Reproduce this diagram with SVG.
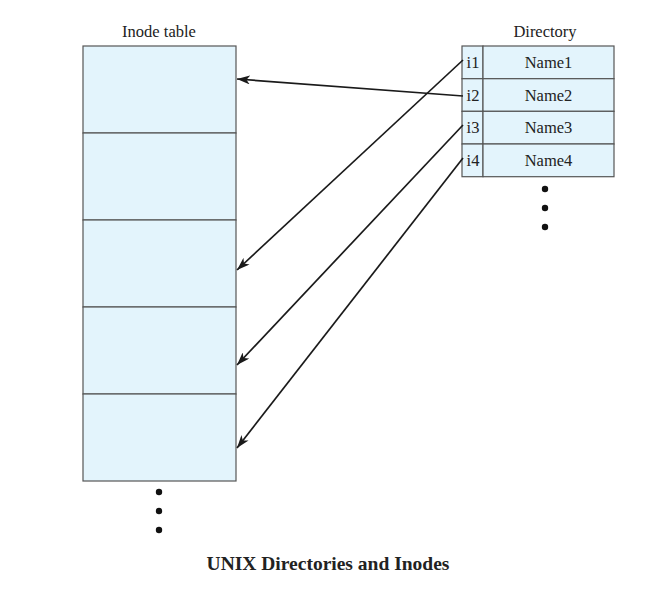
<svg xmlns="http://www.w3.org/2000/svg" width="660" height="595" viewBox="0 0 660 595">
<defs>
<marker id="ah" viewBox="0 0 13 9" refX="13" refY="4.5" markerWidth="13" markerHeight="9" markerUnits="userSpaceOnUse" orient="auto">
<path d="M0,0 L13,4.5 L0,9 L3.5,4.5 Z" fill="#1a1a1a"/>
</marker>
</defs>
<style>
.cell{fill:#e3f4fc;stroke:#555;stroke-width:1.2}
.t{font-family:"Liberation Serif",serif;font-size:16.5px;fill:#222}
.m{text-anchor:middle}
.c{stroke:#1a1a1a;stroke-width:1.7;fill:none;marker-end:url(#ah)}
.dot{fill:#111}
</style>
<rect width="660" height="595" fill="#fff"/>
<g id="inode-table">
<text class="t m" x="159" y="37">Inode table</text>
<rect class="cell" x="83" y="46" width="153" height="87"/>
<rect class="cell" x="83" y="133" width="153" height="87"/>
<rect class="cell" x="83" y="220" width="153" height="87"/>
<rect class="cell" x="83" y="307" width="153" height="87"/>
<rect class="cell" x="83" y="394" width="153" height="87"/>
<circle class="dot" cx="159" cy="492" r="3.2"/>
<circle class="dot" cx="159" cy="511" r="3.2"/>
<circle class="dot" cx="159" cy="530" r="3.2"/>
</g>
<g id="directory">
<text class="t m" x="545" y="37">Directory</text>
<rect class="cell" x="462" y="46" width="21" height="32.7"/>
<rect class="cell" x="483" y="46" width="131" height="32.7"/>
<rect class="cell" x="462" y="78.7" width="21" height="32.7"/>
<rect class="cell" x="483" y="78.7" width="131" height="32.7"/>
<rect class="cell" x="462" y="111.3" width="21" height="32.7"/>
<rect class="cell" x="483" y="111.3" width="131" height="32.7"/>
<rect class="cell" x="462" y="144" width="21" height="32.7"/>
<rect class="cell" x="483" y="144" width="131" height="32.7"/>
<text class="t m" x="473" y="68">i1</text>
<text class="t m" x="473" y="101">i2</text>
<text class="t m" x="473" y="133">i3</text>
<text class="t m" x="473" y="166">i4</text>
<text class="t m" x="548.5" y="68">Name1</text>
<text class="t m" x="548.5" y="101">Name2</text>
<text class="t m" x="548.5" y="133">Name3</text>
<text class="t m" x="548.5" y="166">Name4</text>
<circle class="dot" cx="545" cy="189" r="3.2"/>
<circle class="dot" cx="545" cy="208" r="3.2"/>
<circle class="dot" cx="545" cy="227" r="3.2"/>
</g>
<g id="connectors">
<line class="c" x1="463" y1="96" x2="237" y2="79"/>
<line class="c" x1="463" y1="60" x2="237" y2="270"/>
<line class="c" x1="463" y1="125" x2="237" y2="365"/>
<line class="c" x1="463" y1="158" x2="237" y2="448"/>
</g>
<text x="328" y="570" text-anchor="middle" style="font-family:'Liberation Serif',serif;font-size:19.5px;font-weight:bold;fill:#222">UNIX Directories and Inodes</text>
</svg>
